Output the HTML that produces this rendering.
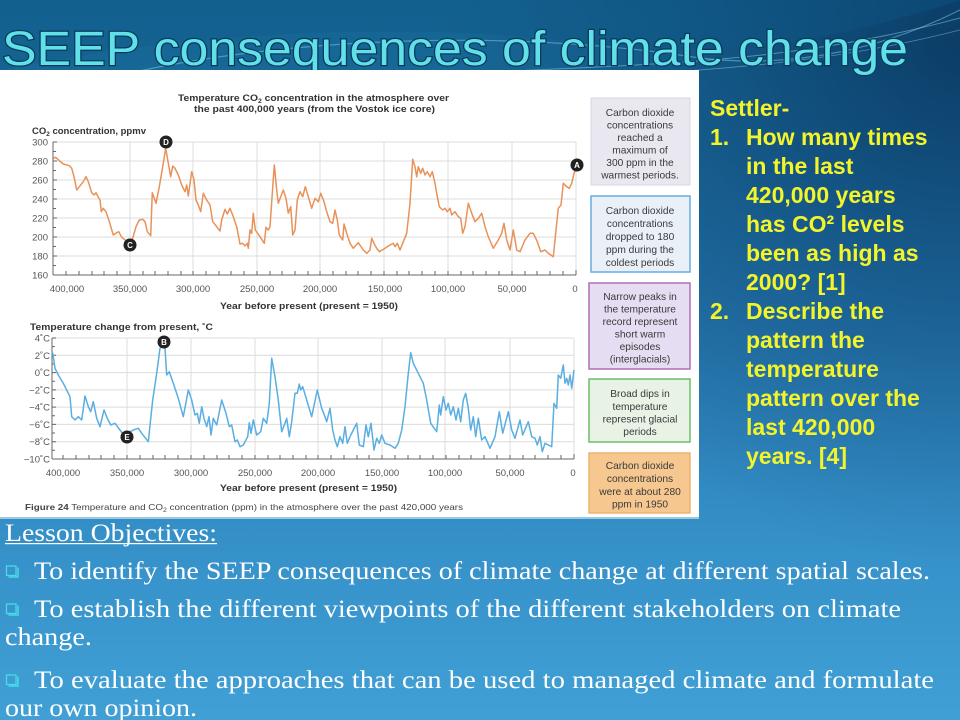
<!DOCTYPE html>
<html><head><meta charset="utf-8"><style>
html,body{margin:0;padding:0;background:#2a80b6;}
svg{display:block;}
</style></head><body>
<svg width="960" height="720" viewBox="0 0 960 720" xmlns="http://www.w3.org/2000/svg">
<defs>
<linearGradient id="bg" x1="0" y1="0" x2="0" y2="1">
<stop offset="0" stop-color="#156593"/>
<stop offset="0.2" stop-color="#1a6a9b"/>
<stop offset="0.45" stop-color="#2576ad"/>
<stop offset="0.7" stop-color="#338dc5"/>
<stop offset="1" stop-color="#40a0d6"/>
</linearGradient>
<radialGradient id="dk" cx="960" cy="40" r="520" gradientUnits="userSpaceOnUse">
<stop offset="0" stop-color="#082f58" stop-opacity="0.75"/>
<stop offset="0.6" stop-color="#0b3d6a" stop-opacity="0.3"/>
<stop offset="1" stop-color="#0b3d6a" stop-opacity="0"/>
</radialGradient>
</defs>
<rect x="0" y="0" width="960" height="720" fill="url(#bg)"/>
<rect x="0" y="0" width="960" height="720" fill="url(#dk)"/>
<!-- swooshes -->
<path d="M0,70 C200,30 420,20 600,45 C720,60 840,40 960,0 L960,0 L0,0 Z" fill="#0f5a88" opacity="0.35"/>
<path d="M120,75 C300,35 520,30 700,58 C800,70 890,45 960,10" stroke="#7fd0e8" stroke-width="1.2" fill="none" opacity="0.5"/>
<path d="M400,78 C600,62 760,72 960,18" stroke="#9fe0f0" stroke-width="1" fill="none" opacity="0.45"/>
<path d="M550,80 C700,70 820,66 960,30" stroke="#bdf0fa" stroke-width="0.8" fill="none" opacity="0.4"/>

<!-- Title -->
<text x="2" y="65" font-family="Liberation Sans, sans-serif" font-size="48" fill="#62e0ea" stroke="#083a58" stroke-width="2.4" paint-order="stroke" textLength="906" lengthAdjust="spacingAndGlyphs">SEEP consequences of climate change</text>

<!-- Chart image -->
<rect x="0" y="70" width="699" height="449" fill="#ffffff"/>
<rect x="0" y="517" width="699" height="2" fill="#9cc8e0"/>

<g font-family="Liberation Sans, sans-serif">
<text x="178" y="101" font-size="9" font-weight="bold" fill="#333" textLength="271" lengthAdjust="spacingAndGlyphs">Temperature CO<tspan font-size="6" dy="2">2</tspan><tspan dy="-2"> concentration in the atmosphere over</tspan></text>
<text x="194" y="112" font-size="9" font-weight="bold" fill="#333" textLength="241" lengthAdjust="spacingAndGlyphs">the past 400,000 years (from the Vostok ice core)</text>
<text x="32" y="134" font-size="9" font-weight="bold" fill="#333" textLength="114" lengthAdjust="spacingAndGlyphs">CO<tspan font-size="6" dy="2">2</tspan><tspan dy="-2"> concentration, ppmv</tspan></text>

<!-- top grid -->
<g stroke="#dcdcdc" stroke-width="1">
<line x1="53" y1="142" x2="576" y2="142"/><line x1="53" y1="161" x2="576" y2="161"/><line x1="53" y1="180" x2="576" y2="180"/><line x1="53" y1="199" x2="576" y2="199"/><line x1="53" y1="218" x2="576" y2="218"/><line x1="53" y1="237" x2="576" y2="237"/><line x1="53" y1="256" x2="576" y2="256"/>
<line x1="130" y1="142" x2="130" y2="275"/><line x1="193" y1="142" x2="193" y2="275"/><line x1="257" y1="142" x2="257" y2="275"/><line x1="320" y1="142" x2="320" y2="275"/><line x1="384" y1="142" x2="384" y2="275"/><line x1="448" y1="142" x2="448" y2="275"/><line x1="512" y1="142" x2="512" y2="275"/><line x1="576" y1="142" x2="576" y2="275"/>
</g>
<g stroke="#666" stroke-width="1">
<line x1="53" y1="142" x2="53" y2="275"/><line x1="53" y1="275" x2="576" y2="275"/>
</g>
<g stroke="#666" stroke-width="1">
<path d="M53,142h4M53,151.5h3M53,161h4M53,170.5h3M53,180h4M53,189.5h3M53,199h4M53,208.5h3M53,218h4M53,227.5h3M53,237h4M53,246.5h3M53,256h4M53,265.5h3"/>
<path d="M66,275v-4M79,275v-4M92,275v-4M104,275v-4M117,275v-4M130,275v-4M143,275v-4M155,275v-4M168,275v-4M181,275v-4M193,275v-4M206,275v-4M219,275v-4M231,275v-4M244,275v-4M257,275v-4M270,275v-4M282,275v-4M295,275v-4M308,275v-4M320,275v-4M333,275v-4M346,275v-4M358,275v-4M371,275v-4M384,275v-4M397,275v-4M409,275v-4M422,275v-4M435,275v-4M448,275v-4M461,275v-4M473,275v-4M486,275v-4M499,275v-4M512,275v-4M525,275v-4M537,275v-4M550,275v-4M563,275v-4M576,275v-5"/>
</g>
<g font-size="9.5" fill="#555" text-anchor="end">
<text x="48" y="145.5">300</text><text x="48" y="164.5">280</text><text x="48" y="183.5">260</text><text x="48" y="202.5">240</text><text x="48" y="221.5">220</text><text x="48" y="240.5">200</text><text x="48" y="259.5">180</text><text x="48" y="278.5">160</text>
</g>
<g font-size="9.5" fill="#555" text-anchor="middle">
<text x="67" y="292">400,000</text><text x="130" y="292">350,000</text><text x="193" y="292">300,000</text><text x="257" y="292">250,000</text><text x="320" y="292">200,000</text><text x="385" y="292">150,000</text><text x="448" y="292">100,000</text><text x="512" y="292">50,000</text><text x="575" y="292">0</text>
</g>
<text x="220" y="309" font-size="9" font-weight="bold" fill="#333" textLength="178" lengthAdjust="spacingAndGlyphs">Year before present (present = 1950)</text>

<polyline fill="none" stroke="#e8925a" stroke-width="1.5" stroke-linejoin="round" points="53.3,158.3 55.7,157.3 59.3,160.7 63.3,164 69.3,165.7 71.7,168.3 74,176.7 76.7,190 79.3,186.7 83.3,181.7 86,176.7 88.3,181.7 91.7,192.7 94,195 96,192.7 98.3,197.3 100,200 101.3,211.7 103.3,208.3 106,211.7 109.3,221.7 113.3,235 116.7,232.7 118.7,231.7 121.7,237.3 126,240.7 129.3,243.3 132.7,238.3 136,226.7 139.3,220 142.7,219.3 145,221.7 147.3,231.7 150.7,235.7 152.3,192.7 156,203.3 159.3,186.7 162.7,166.7 165.7,148.3 168.3,163.3 170.7,176.7 172.7,166 175,168.3 178.3,175 181.7,185 185,191.7 186.7,185 188.3,196 191.7,171.7 194,180 196,200 198.3,205 200.7,211.7 203.3,193.3 206.7,200 210,205 212.7,221.7 216.7,226.7 220,231 221.7,220 225,209.3 227.3,214 230,208.3 233.3,216.7 236.7,226.7 240,244 242.7,243.3 245,246 247.3,243.3 248.3,248.3 250,230 251.7,233.3 253.3,213.3 255.3,230 260,236.7 264.3,243.3 266,227.3 268.3,230 270,226.7 272.3,193.3 274.3,165 276.7,190 278.3,203.3 280.7,196.7 283.3,190 286,198.3 288.3,213.3 290.7,206.7 292.7,235 295,230 297.3,200 300,191.7 302.7,196.7 305.3,186.7 308.3,196.7 311.7,208.3 315,198.3 318.3,201.7 320.7,193.3 324,201.7 326.7,211.7 330,221.7 332.7,223.3 335,210 337.3,220 339.3,235 342.7,240 344,224 346.7,233.3 350,243.3 353.3,248.3 358.3,242.7 363.3,250 366.7,253.3 370,250 371.7,238.3 374,243.3 376.7,248.3 379.3,251.7 385,248.3 390,245 393.3,243.3 395,246.7 397.3,243.3 400,250 402.7,243.3 406.7,233.3 410,203.3 412.7,159.3 415,166.7 416.7,176.7 418.3,166.7 420.7,173.3 422.7,168.3 425,175 427.3,171.7 430,176.7 432.3,171.7 435,183.3 436.7,193.3 439.3,206.7 442.7,210 445,208.3 447.3,211.7 450,208.3 451.7,215 455,211.7 458.3,216.7 460.7,218.3 462.7,233.3 465,226.7 468.3,203.3 471.7,213.3 475,221.7 478.3,218.3 481.7,213.3 485,226.7 488.3,236.7 493.3,248.3 498.3,240 501.7,233.3 504,223.3 506.7,240 510,250 513.3,230 516.7,250 520,251.7 525,240 530,233.3 533.3,233.3 537.3,241.7 540.7,251.7 545,250 548.3,253.3 553.3,256.7 556,230 558.3,208.3 561,205 563.3,183.3 566.7,186.7 569.3,188.3 571.7,183.3 574,173.3 576,168.3"/>

<!-- bottom chart -->
<text x="30" y="330" font-size="9" font-weight="bold" fill="#333" textLength="183" lengthAdjust="spacingAndGlyphs">Temperature change from present, ˚C</text>
<g stroke="#dcdcdc" stroke-width="1">
<line x1="52" y1="338" x2="574" y2="338"/><line x1="52" y1="355.3" x2="574" y2="355.3"/><line x1="52" y1="372.6" x2="574" y2="372.6"/><line x1="52" y1="389.9" x2="574" y2="389.9"/><line x1="52" y1="407.1" x2="574" y2="407.1"/><line x1="52" y1="424.4" x2="574" y2="424.4"/><line x1="52" y1="441.7" x2="574" y2="441.7"/>
<line x1="127" y1="338" x2="127" y2="459"/><line x1="191" y1="338" x2="191" y2="459"/><line x1="255" y1="338" x2="255" y2="459"/><line x1="318" y1="338" x2="318" y2="459"/><line x1="382" y1="338" x2="382" y2="459"/><line x1="445" y1="338" x2="445" y2="459"/><line x1="510" y1="338" x2="510" y2="459"/><line x1="574" y1="338" x2="574" y2="459"/>
</g>
<g stroke="#666" stroke-width="1">
<line x1="52" y1="338" x2="52" y2="459"/><line x1="52" y1="459" x2="574" y2="459"/>
<path d="M52,338h4M52,346.6h3M52,355.3h4M52,364h3M52,372.6h4M52,381.2h3M52,389.9h4M52,398.5h3M52,407.1h4M52,415.8h3M52,424.4h4M52,433h3M52,441.7h4M52,450.3h3"/>
<path d="M63,459v-4M76,459v-4M89,459v-4M101,459v-4M114,459v-4M127,459v-4M140,459v-4M153,459v-4M165,459v-4M178,459v-4M191,459v-4M204,459v-4M217,459v-4M229,459v-4M242,459v-4M255,459v-4M268,459v-4M280,459v-4M293,459v-4M306,459v-4M318,459v-4M331,459v-4M344,459v-4M357,459v-4M369,459v-4M382,459v-4M395,459v-4M408,459v-4M420,459v-4M433,459v-4M446,459v-4M459,459v-4M471,459v-4M484,459v-4M497,459v-4M510,459v-4M523,459v-4M535,459v-4M548,459v-4M561,459v-4M574,459v-5"/>
</g>
<g font-size="9.5" fill="#555" text-anchor="end">
<text x="50" y="341.5">4˚C</text><text x="50" y="358.8">2˚C</text><text x="50" y="376.1">0˚C</text><text x="50" y="393.4">−2˚C</text><text x="50" y="410.6">−4˚C</text><text x="50" y="427.9">−6˚C</text><text x="50" y="445.2">−8˚C</text><text x="50" y="462.5">−10˚C</text>
</g>
<g font-size="9.5" fill="#555" text-anchor="middle">
<text x="63" y="476">400,000</text><text x="127" y="476">350,000</text><text x="191" y="476">300,000</text><text x="255" y="476">250,000</text><text x="318" y="476">200,000</text><text x="382" y="476">150,000</text><text x="445" y="476">100,000</text><text x="510" y="476">50,000</text><text x="573" y="476">0</text>
</g>
<text x="220" y="491" font-size="9" font-weight="bold" fill="#333" textLength="177" lengthAdjust="spacingAndGlyphs">Year before present (present = 1950)</text>
<text x="25" y="510" font-size="8.5" fill="#444" textLength="438" lengthAdjust="spacingAndGlyphs"><tspan font-weight="bold">Figure 24</tspan> Temperature and CO<tspan font-size="6" dy="2">2</tspan><tspan dy="-2"> concentration (ppm) in the atmosphere over the past 420,000 years</tspan></text>

<polyline fill="none" stroke="#5aaee2" stroke-width="1.5" stroke-linejoin="round" points="52.3,351.7 53.3,356.7 55,368.3 58.3,375 63.3,383.3 70,396.7 71.7,416.7 75,420 78.3,416.7 81.7,420 85,396 88.3,406.7 90.7,411.7 93.3,401.7 96.7,418.3 100,426.7 104,410 107.3,418.3 110.7,425 115,423.3 120,430 125,436.7 130,431.7 135,429.3 138.3,428.3 141.7,433.3 148.3,441.7 152.7,400 156.7,373.3 160,348.3 162.7,346 165,348.3 166.7,375 169.3,371.7 173.3,383.3 178.3,398.3 183.3,416.7 188.3,390 191.7,400 195,415 197.3,413.3 199.3,423.3 201.7,406.7 204,418.3 206.7,426.7 209,416.7 211,435 213.3,418.3 216.7,425 221.7,400 226,413.3 229.3,426.7 231.7,425 235,441.7 237.3,440 240,446.7 243.3,445 247.7,436.7 249.3,422.7 251,433.3 253.3,420 256.7,435 260.7,431.7 263.3,418.3 266.7,423.3 269.3,403.3 271.7,358.3 275,376.7 278.3,400 281.7,431.7 285,423.3 286.7,418.3 289.3,436.7 291.7,421.7 295,393.3 297.3,393.3 299.3,384 300.7,390 302.7,386.7 306.7,400 311.7,416.7 317.3,390 321.7,408.3 325,416.7 326.7,421.7 330,408.3 332.7,430 335,440 337.3,446.7 340,436.7 342.7,443.3 345,426.7 347.3,443.3 350,436.7 353.3,430 356.7,423.3 359.3,445 363.3,446.7 366,425 368.3,436.7 371,423.3 374,450 376.7,438.3 379.3,443.3 381.7,435 385,443.3 390,445 395,448.3 398.3,443.3 401.7,430 405,406.7 408.3,373.3 410.7,352.7 413.3,363.3 418.3,373.3 423.3,383.3 426.7,400 430.7,423.3 436.7,431.7 439.3,405 440.7,415 443.3,396.7 446,410 448.3,403.3 450.7,415 453.3,406.7 456,420 458.3,408.3 460.7,421.7 463.3,400 465.7,393.3 468.3,408.3 470.7,430 473.3,416.7 475.7,436.7 478.3,418.3 481.7,440 485,436.7 490,448.3 495,436.7 499.3,411.7 502.7,433.3 508.3,411.7 511.7,430 515,438.3 520,420 522.7,435 528.3,421.7 531.7,436.7 535,438.3 537.3,445 540,436.7 542.3,451.7 545,443.3 548.3,445 551.7,446.7 554,403.3 556.7,408.3 558.3,375 560.7,378.3 563.3,365 565,383.3 566.7,378.3 568.3,385 570,375 571.7,388.3 574,370"/>

<!-- markers -->
<g font-size="8" font-weight="bold" fill="#fff" text-anchor="middle">
<circle cx="166" cy="142" r="6.5" fill="#222"/><text x="166" y="145">D</text>
<circle cx="130" cy="245" r="6.5" fill="#222"/><text x="130" y="248">C</text>
<circle cx="577" cy="165" r="6.5" fill="#222"/><text x="577" y="168">A</text>
<circle cx="164" cy="342" r="6.5" fill="#222"/><text x="164" y="345">B</text>
<circle cx="127" cy="437" r="6.5" fill="#222"/><text x="127" y="440">E</text>
</g>

<!-- side boxes -->
<rect x="591" y="98" width="99" height="87" fill="#e9e7ef" stroke="#d9d6e2" stroke-width="1"/>
<rect x="591" y="196" width="99" height="76" fill="#e9f0f8" stroke="#69ace0" stroke-width="1.5"/>
<rect x="589" y="283" width="101" height="86" fill="#e5ddf1" stroke="#b06eb8" stroke-width="1.5"/>
<rect x="589" y="379" width="101" height="63" fill="#e8f3e6" stroke="#6abd68" stroke-width="1.5"/>
<rect x="589" y="453" width="101" height="60" fill="#f6c890" stroke="#efb26c" stroke-width="1.5"/>
<g font-size="10.2" fill="#3a3a3a" text-anchor="middle">
<text x="640" y="116">Carbon dioxide</text><text x="640" y="128.5">concentrations</text><text x="640" y="141">reached a</text><text x="640" y="153.5">maximum of</text><text x="640" y="166">300 ppm in the</text><text x="640" y="178.5">warmest periods.</text>
<text x="640" y="214">Carbon dioxide</text><text x="640" y="227">concentrations</text><text x="640" y="240">dropped to 180</text><text x="640" y="253">ppm during the</text><text x="640" y="266">coldest periods</text>
<text x="640" y="300">Narrow peaks in</text><text x="640" y="312.5">the temperature</text><text x="640" y="325">record represent</text><text x="640" y="337.5">short warm</text><text x="640" y="350">episodes</text><text x="640" y="362.5">(interglacials)</text>
<text x="640" y="397">Broad dips in</text><text x="640" y="410">temperature</text><text x="640" y="422.5">represent glacial</text><text x="640" y="435">periods</text>
<text x="640" y="469">Carbon dioxide</text><text x="640" y="482">concentrations</text><text x="640" y="495">were at about 280</text><text x="640" y="507.5">ppm in 1950</text>
</g>
</g>

<!-- Settler text -->
<g font-family="Liberation Sans, sans-serif" font-weight="bold" font-size="23" fill="#f4f42a">
<text x="710" y="116">Settler-</text>
<text x="710" y="145">1.</text>
<text x="746" y="145">How many times</text>
<text x="746" y="174">in the last</text>
<text x="746" y="203">420,000 years</text>
<text x="746" y="232">has CO² levels</text>
<text x="746" y="261">been as high as</text>
<text x="746" y="290">2000? [1]</text>
<text x="710" y="319">2.</text>
<text x="746" y="319">Describe the</text>
<text x="746" y="348">pattern the</text>
<text x="746" y="377">temperature</text>
<text x="746" y="406">pattern over the</text>
<text x="746" y="435">last 420,000</text>
<text x="746" y="464">years. [4]</text>
</g>

<!-- Lesson objectives -->
<g font-family="Liberation Serif, serif" font-size="25" fill="#ffffff">
<text x="5" y="541" font-size="25" textLength="212" lengthAdjust="spacingAndGlyphs">Lesson Objectives:</text>
<rect x="5" y="543" width="212" height="1.2" fill="#ffffff"/>
<text x="34" y="579" textLength="896" lengthAdjust="spacingAndGlyphs">To identify the SEEP consequences of climate change at different spatial scales.</text>
<text x="34" y="617" textLength="867" lengthAdjust="spacingAndGlyphs">To establish the different viewpoints of the different stakeholders on climate</text>
<text x="5" y="645" textLength="87" lengthAdjust="spacingAndGlyphs">change.</text>
<text x="34" y="688" textLength="900" lengthAdjust="spacingAndGlyphs">To evaluate the approaches that can be used to managed climate and formulate</text>
<text x="5" y="716" textLength="192" lengthAdjust="spacingAndGlyphs">our own opinion.</text>
</g>
<g fill="none" stroke="#46dbe8" stroke-width="1.3">
<rect x="6.5" y="566" width="9.5" height="9.5"/>
<rect x="6.5" y="604" width="9.5" height="9.5"/>
<rect x="6.5" y="675" width="9.5" height="9.5"/>
</g>
<g stroke="#46dbe8" stroke-width="1.5" fill="none">
<path d="M8.5,577h9.5v-9.5M8.5,615h9.5v-9.5M8.5,686h9.5v-9.5"/>
</g>
</svg>
</body></html>
